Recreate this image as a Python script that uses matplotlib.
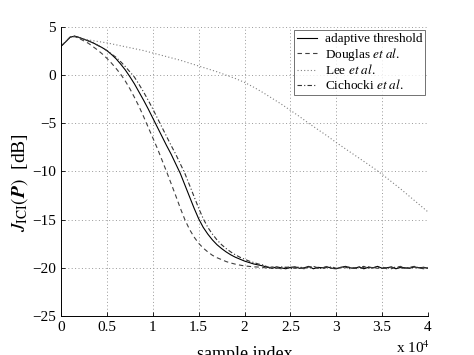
import numpy as np
import matplotlib
matplotlib.use('Agg')
import matplotlib.pyplot as plt

plt.rcParams['font.family'] = ['Liberation Serif', 'DejaVu Serif']
plt.rcParams['mathtext.fontset'] = 'stix'

# sample index in units of 1e4; transients read every 0.05 from 0 to 2.2
trans_x = [0.0, 0.05, 0.1, 0.15, 0.2, 0.25, 0.3, 0.35, 0.4, 0.45, 0.5, 0.55, 0.6,
           0.65, 0.7, 0.75, 0.8, 0.85, 0.9, 0.95, 1.0, 1.05, 1.1, 1.15, 1.2, 1.25,
           1.3, 1.35, 1.4, 1.45, 1.5, 1.55, 1.6, 1.65, 1.7, 1.75, 1.8, 1.85, 1.9,
           1.95, 2.0, 2.05, 2.1, 2.15, 2.2]
tail_x = [2.25, 2.3, 2.35, 2.4, 2.45, 2.5, 2.55, 2.6, 2.65, 2.7, 2.75, 2.8, 2.85,
          2.9, 2.95, 3.0, 3.05, 3.1, 3.15, 3.2, 3.25, 3.3, 3.35, 3.4, 3.45, 3.5,
          3.55, 3.6, 3.65, 3.7, 3.75, 3.8, 3.85, 3.9, 3.95, 4.0]

adapt_y = [3.0, 3.45, 3.95, 4.05, 3.9, 3.72, 3.55, 3.35, 3.1, 2.85, 2.55, 2.15, 1.7,
           1.15, 0.55, -0.15, -0.9, -1.75, -2.6, -3.5, -4.45, -5.4, -6.35, -7.3, -8.2,
           -9.2, -10.2, -11.4, -12.6, -13.8, -14.9, -15.8, -16.5, -17.1, -17.6, -18.0,
           -18.35, -18.65, -18.9, -19.1, -19.3, -19.45, -19.6, -19.7, -19.8]
adapt_tail = [-19.95, -20.05, -19.9, -20.0, -20.1, -19.95, -19.9, -20.05, -20.0,
              -19.85, -20.1, -19.95, -20.0, -19.9, -20.05, -20.1, -19.95, -19.85,
              -20.0, -20.05, -19.9, -20.1, -19.95, -20.0, -19.85, -20.05, -20.0,
              -19.9, -20.1, -19.95, -20.0, -20.05, -19.9, -20.0, -19.95, -20.05]

doug_y = [3.0, 3.45, 3.95, 4.0, 3.8, 3.55, 3.3, 2.95, 2.6, 2.2, 1.75, 1.25, 0.7,
          0.1, -0.6, -1.4, -2.3, -3.25, -4.3, -5.4, -6.5, -7.6, -8.8, -10.0, -11.25,
          -12.5, -13.8, -15.0, -16.0, -16.8, -17.45, -17.95, -18.35, -18.7, -18.95,
          -19.15, -19.35, -19.5, -19.62, -19.72, -19.8, -19.85, -19.9, -19.92, -19.95]
doug_tail = [-20.05, -19.9, -20.0, -20.1, -19.95, -19.9, -20.05, -20.0, -20.1, -19.9,
             -19.95, -20.05, -20.0, -19.85, -20.05, -20.1, -19.95, -20.0, -19.9,
             -20.05, -20.1, -19.95, -19.9, -20.0, -20.05, -19.9, -20.1, -20.0,
             -19.95, -19.85, -20.05, -20.0, -19.9, -20.1, -19.95, -20.0]

cich_y = [3.0, 3.45, 3.95, 4.05, 3.9, 3.72, 3.55, 3.35, 3.1, 2.85, 2.55, 2.2, 1.85,
          1.4, 0.9, 0.35, -0.2, -0.95, -1.75, -2.6, -3.5, -4.45, -5.4, -6.35, -7.3,
          -8.2, -9.2, -10.2, -11.4, -12.6, -13.8, -14.9, -15.8, -16.5, -17.1, -17.6,
          -18.0, -18.35, -18.65, -18.9, -19.1, -19.3, -19.45, -19.6, -19.7]
cich_tail = [-19.9, -20.0, -20.05, -19.9, -19.95, -20.1, -20.0, -19.9, -20.05, -19.95,
             -19.85, -20.0, -20.1, -19.95, -19.9, -20.05, -20.0, -19.9, -20.1, -20.0,
             -19.95, -19.85, -20.05, -20.0, -19.9, -20.05, -19.95, -20.1, -19.9,
             -20.0, -20.05, -19.95, -19.85, -20.0, -20.1, -19.95]

lee_x = [0.0, 0.05, 0.1, 0.15, 0.2, 0.3, 0.4, 0.5, 0.6, 0.7, 0.8, 0.9, 1.0, 1.1,
         1.2, 1.3, 1.4, 1.5, 1.6, 1.7, 1.8, 1.9, 2.0, 2.1, 2.2, 2.3, 2.4, 2.5, 2.6,
         2.7, 2.8, 2.9, 3.0, 3.1, 3.2, 3.3, 3.4, 3.5, 3.6, 3.7, 3.8, 3.9, 4.0]
lee_y = [3.0, 3.45, 3.95, 4.0, 3.85, 3.65, 3.5, 3.35, 3.15, 2.95, 2.75, 2.55, 2.3,
         2.05, 1.8, 1.55, 1.25, 0.95, 0.65, 0.35, 0.0, -0.35, -0.75, -1.25, -1.8,
         -2.4, -3.0, -3.65, -4.3, -5.0, -5.65, -6.3, -7.0, -7.65, -8.3, -8.95, -9.6,
         -10.3, -11.05, -11.8, -12.6, -13.4, -14.2]

xticks = [0, 0.5, 1, 1.5, 2, 2.5, 3, 3.5, 4]
xticklabels = ['0', '0.5', '1', '1.5', '2', '2.5', '3', '3.5', '4']
yticks = [-25, -20, -15, -10, -5, 0, 5]

fig = plt.figure(figsize=(4.74, 3.55), dpi=100)
ax = fig.add_axes([0.1287, 0.1099, 0.903 - 0.1287, 0.924 - 0.1099])

ax.plot(trans_x + tail_x, adapt_y + adapt_tail, '-', color='black', lw=0.8,
        label='adaptive threshold')
ax.plot(trans_x + tail_x, doug_y + doug_tail, color='0.25', lw=0.8, dashes=(4, 3),
        label=r'Douglas $\mathit{et\ al}$.')
ax.plot(lee_x, lee_y, color='0.5', lw=0.8, dashes=(1, 2),
        label=r'Lee $\mathit{et\ al}$.')
ax.plot(trans_x + tail_x, cich_y + cich_tail, color='0.2', lw=0.8, dashes=(4, 2, 1, 2),
        label=r'Cichocki $\mathit{et\ al}$.')

ax.set_xlim(0, 4)
ax.set_ylim(-25, 5)
ax.set_xticks(xticks)
ax.set_xticklabels(xticklabels)
ax.set_yticks(yticks)
ax.tick_params(direction='in', length=3, labelsize=11, width=0.6)
ax.spines['top'].set_visible(False)
ax.spines['right'].set_visible(False)
ax.spines['left'].set_linewidth(0.7)
ax.spines['bottom'].set_linewidth(0.7)
ax.grid(True, linestyle=(0, (1, 2.5)), color='0.6', lw=0.7)

ax.set_ylabel(r'$J_{\mathrm{ICI}}(\boldsymbol{P})$  [dB]', fontsize=14)
ax.yaxis.set_label_coords(-0.085, 0.46)
# label sits low, partly cut by the bottom edge as in the original
ax.set_xlabel('sample index', fontsize=13)
ax.xaxis.set_label_coords(0.5, -0.105)
ax.xaxis.label.set_va('top')
ax.text(1.005, -0.08, r'x 10$^4$', transform=ax.transAxes, ha='right', va='top', fontsize=11)

leg = ax.legend(loc='upper right', fontsize=9.5, frameon=True, fancybox=False,
                edgecolor='0.3', handlelength=1.5, handletextpad=0.6,
                borderpad=0.2, labelspacing=0.05, borderaxespad=0.25)
leg.get_frame().set_linewidth(0.7)

fig.savefig('out.png', dpi=100)
